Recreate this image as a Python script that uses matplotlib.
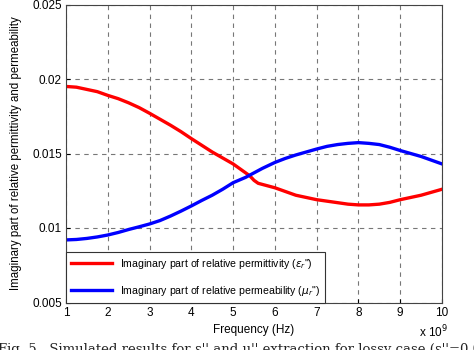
import numpy as np
import matplotlib
matplotlib.use('Agg')
import matplotlib.pyplot as plt

plt.rcParams['font.family'] = ['Liberation Sans', 'DejaVu Sans']

# frequency in units of 1e9 Hz
freq_red = [1, 1.25, 1.5, 1.75, 2, 2.25, 2.5, 2.75, 3, 3.25, 3.5, 3.75, 4,
            4.25, 4.5, 4.75, 5, 5.2, 5.4, 5.5, 5.6, 5.8, 6,
            6.25, 6.5, 6.75, 7, 7.25, 7.5, 7.75, 8, 8.25, 8.5, 8.75, 9,
            9.25, 9.5, 9.75, 10]
eps_imag = [0.0195, 0.01945, 0.0193, 0.01915, 0.0189, 0.01868, 0.0184,
            0.01808, 0.0177, 0.0173, 0.0169, 0.01647, 0.0160,
            0.01555, 0.0151, 0.0147, 0.0143, 0.0139, 0.0135, 0.0132,
            0.0130, 0.01285, 0.0127,
            0.01245, 0.0122, 0.01205, 0.0119, 0.0118, 0.0117, 0.0116,
            0.01155, 0.01155, 0.0116, 0.01172, 0.0119, 0.01205, 0.0122,
            0.0124, 0.0126]

freq_blue = [1, 1.25, 1.5, 1.75, 2, 2.25, 2.5, 2.75, 3, 3.25, 3.5, 3.75, 4,
             4.25, 4.5, 4.75, 5, 5.3, 5.5, 5.7, 6, 6.25, 6.5, 6.75, 7,
             7.25, 7.5, 7.75, 8, 8.25, 8.5, 8.75, 9, 9.25, 9.5, 9.75, 10]
mu_imag = [0.0092, 0.00923, 0.0093, 0.0094, 0.00953, 0.0097, 0.0099,
           0.01008, 0.01027, 0.0105, 0.0108, 0.01113, 0.01148,
           0.01185, 0.0122, 0.0126, 0.01304, 0.0134, 0.0137, 0.0140,
           0.0144, 0.01467, 0.0149, 0.0151, 0.0153,
           0.01548, 0.0156, 0.01568, 0.01573, 0.01568, 0.0156, 0.01542,
           0.0152, 0.015, 0.0148, 0.01455, 0.0143]

fig = plt.figure(figsize=(4.74, 3.5), dpi=100)
ax = fig.add_axes([66/474, 1 - 302.5/350, 376/474, 298/350])

ax.plot(freq_red, eps_imag, color='red', lw=2.4,
        label=r'Imaginary part of relative permittivity ($\varepsilon_r$")')
ax.plot(freq_blue, mu_imag, color='blue', lw=2.4,
        label=r'Imaginary part of relative permeability ($\mu_r$")')

ax.set_xlim(1, 10)
ax.set_ylim(0.005, 0.025)
ax.set_xticks(range(1, 11))
ax.set_yticks([0.005, 0.01, 0.015, 0.02, 0.025])
ax.set_yticklabels(['0.005', '0.01', '0.015', '0.02', '0.025'])
ax.tick_params(labelsize=8.5, direction='in', length=3, pad=3)
ax.grid(True, ls=(0, (4, 4)), color='#777777', lw=0.8)
for s in ax.spines.values():
    s.set_color('#444444')

ax.set_xlabel('Frequency (Hz)', fontsize=8.5, labelpad=4)
ax.set_ylabel('Imaginary part of relative permittivity and permeability',
              fontsize=8.3, labelpad=7)
fig.text(419/474, 1 - 332/350, r'x 10$^9$', fontsize=8.5, va='center')

leg = ax.legend(loc='lower left', fontsize=7.6, fancybox=False,
                edgecolor='#333333', framealpha=1, handlelength=3.9,
                borderaxespad=0, labelspacing=1.2, borderpad=0.45)
leg.get_frame().set_linewidth(0.8)

fig.text(-0.005, 1 - 343/350,
         "Fig. 5.  Simulated results for \u03b5'' and \u03bc'' extraction for lossy case (\u03b5''=0.0",
         fontsize=9.5, family='DejaVu Serif', va='top', color='#222222')

fig.savefig('out.png', dpi=100)
